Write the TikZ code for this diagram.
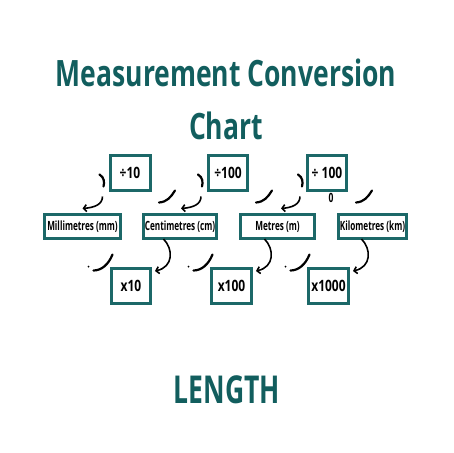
\documentclass[tikz,border=0pt]{standalone}
\usepackage{fontspec}
\setmainfont{Open Sans}
\usetikzlibrary{arrows.meta, calc, positioning}
\definecolor{TealDark}{RGB}{18,94,94}
\definecolor{TealBox}{RGB}{28,104,104}
\newcommand{\tall}[2][1.4]{\scalebox{1}[#1]{#2}}
\tikzset{
  unitbox/.style={draw=TealBox, line width=3pt, fill=white, inner sep=0pt, font=\bfseries\fontsize{8.2}{8.2}\selectfont},
  factorbox/.style={unitbox, minimum width=39pt, minimum height=35pt, font=\bfseries\fontsize{12}{12}\selectfont},
  namebox/.style={unitbox, minimum height=24pt},
  heading/.style={text=TealDark, font=\bfseries\fontsize{26.5}{26.5}\selectfont, inner sep=0pt},
  hook/.style={line width=1.6pt, -{Straight Barb[length=3pt,width=7pt]}},
  tick/.style={line width=2.2pt, line cap=round},
}

\begin{document}
\begin{tikzpicture}[x=1pt,y=-1pt]
\useasboundingbox (0,0) rectangle (453,453);
% headings
\node[heading, anchor=base] (Title) at (226,86) {\tall[1.37]{Measurement Conversion}};
\node[heading, anchor=base] (Chart) at (226,139) {\tall[1.37]{Chart}};
\node[heading, anchor=base] (Length) at (227,403) {\tall[1.45]{LENGTH}};
% divide boxes
\node[factorbox, minimum width=40pt] (Div1) at (130,172.5) {\tall[1.3]{÷10}};
\node[factorbox] (Div2) at (228,172.5) {\tall[1.3]{÷100}};
\node[factorbox] (Div3) at (327,172.5) {\tall[1.3]{÷ 100}};
\node[font=\bfseries\fontsize{8.5}{8.5}\selectfont, inner sep=0pt] (Zero) at ($(Div3.south)+(4,6)$) {\tall[1.5]{0}};
% unit boxes
\node[namebox, minimum width=76pt] (MM) at (82.5,226.5) {\tall[1.55]{Millimetres (mm)}};
\node[namebox, minimum width=73pt] (CM) at (180,226.5) {\tall[1.55]{Centimetres (cm)}};
\node[namebox, minimum width=74pt] (ME) at (277.5,226.5) {\tall[1.55]{Metres (m)}};
\node[namebox, minimum width=68pt] (KM) at (372.5,226.5) {\tall[1.55]{Kilometres (km)}};
% multiply boxes
\node[factorbox] (Mul1) at (131,286) {\tall[1.3]{x10}};
\node[factorbox, minimum width=40pt] (Mul2) at (231.5,286) {\tall[1.3]{x100}};
\node[factorbox, minimum width=40pt] (Mul3) at (328.5,286) {\tall[1.3]{x1000}};
% strokes and hooks above the units
\draw[tick] ($(Div1.south west)+(-9,-17)$) .. controls ($(Div1.south west)+(-4,-14)$) and ($(Div1.south west)+(-4,-9)$) .. ($(Div1.south west)+(-5,-5)$);
\draw[hook] ($(Div1.south west)+(-6,5)$) .. controls ($(Div1.south west)+(-6,13)$) and ($(Div1.south west)+(-14,16)$) .. ($(Div1.south west)+(-26,17)$);
\draw[tick] ($(Div2.south west)+(-9,-17)$) .. controls ($(Div2.south west)+(-4,-14)$) and ($(Div2.south west)+(-4,-9)$) .. ($(Div2.south west)+(-5,-5)$);
\draw[hook] ($(Div2.south west)+(-6,5)$) .. controls ($(Div2.south west)+(-6,13)$) and ($(Div2.south west)+(-14,16)$) .. ($(Div2.south west)+(-26,17)$);
\draw[tick] ($(Div3.south west)+(-8,-17)$) .. controls ($(Div3.south west)+(-3,-14)$) and ($(Div3.south west)+(-3,-9)$) .. ($(Div3.south west)+(-4,-5)$);
\draw[hook] ($(Div3.south west)+(-6,5)$) .. controls ($(Div3.south west)+(-6,13)$) and ($(Div3.south west)+(-14,16)$) .. ($(Div3.south west)+(-25,17)$);
\draw[tick] ($(CM.north west)+(17,-10.5)$) .. controls ($(CM.north west)+(25,-11)$) and ($(CM.north west)+(29,-16)$) .. ($(CM.north west)+(33,-22.5)$);
\draw[tick] ($(ME.north west)+(17,-10.5)$) .. controls ($(ME.north west)+(25,-11)$) and ($(ME.north west)+(29,-16)$) .. ($(ME.north west)+(33,-22.5)$);
\draw[tick] ($(KM.north west)+(19,-10.5)$) .. controls ($(KM.north west)+(27,-11)$) and ($(KM.north west)+(31,-16)$) .. ($(KM.north west)+(35,-22.5)$);
% hooks down to the factors
\draw[hook] ($(Mul1.north east)+(11.5,-28)$) .. controls ($(Mul1.north east)+(21.5,-18)$) and ($(Mul1.north east)+(21.5,0)$) .. ($(Mul1.north east)+(3,4)$);
\draw[hook] ($(Mul2.north east)+(11.5,-28)$) .. controls ($(Mul2.north east)+(21.5,-18)$) and ($(Mul2.north east)+(21.5,0)$) .. ($(Mul2.north east)+(3,4)$);
\draw[hook] ($(Mul3.north east)+(11.5,-28)$) .. controls ($(Mul3.north east)+(21.5,-18)$) and ($(Mul3.north east)+(21.5,0)$) .. ($(Mul3.north east)+(3,4)$);
\draw[tick] ($(Mul1.north west)+(-16.5,3.5)$) .. controls ($(Mul1.north west)+(-8.5,3.5)$) and ($(Mul1.north west)+(-1.5,-2.5)$) .. ($(Mul1.north west)+(2.5,-12.5)$);
\draw[tick] ($(Mul2.north west)+(-16.5,3.5)$) .. controls ($(Mul2.north west)+(-8.5,3.5)$) and ($(Mul2.north west)+(-1.5,-2.5)$) .. ($(Mul2.north west)+(2.5,-12.5)$);
\draw[tick] ($(Mul3.north west)+(-16.5,3.5)$) .. controls ($(Mul3.north west)+(-8.5,3.5)$) and ($(Mul3.north west)+(-1.5,-2.5)$) .. ($(Mul3.north west)+(2.5,-12.5)$);
\fill ($(Mul1.north west)+(-21.5,-0.5)$) circle (1);
\fill ($(Mul2.north west)+(-21.5,-0.5)$) circle (1);
\fill ($(Mul3.north west)+(-21.5,-0.5)$) circle (1);
\end{tikzpicture}
\end{document}
